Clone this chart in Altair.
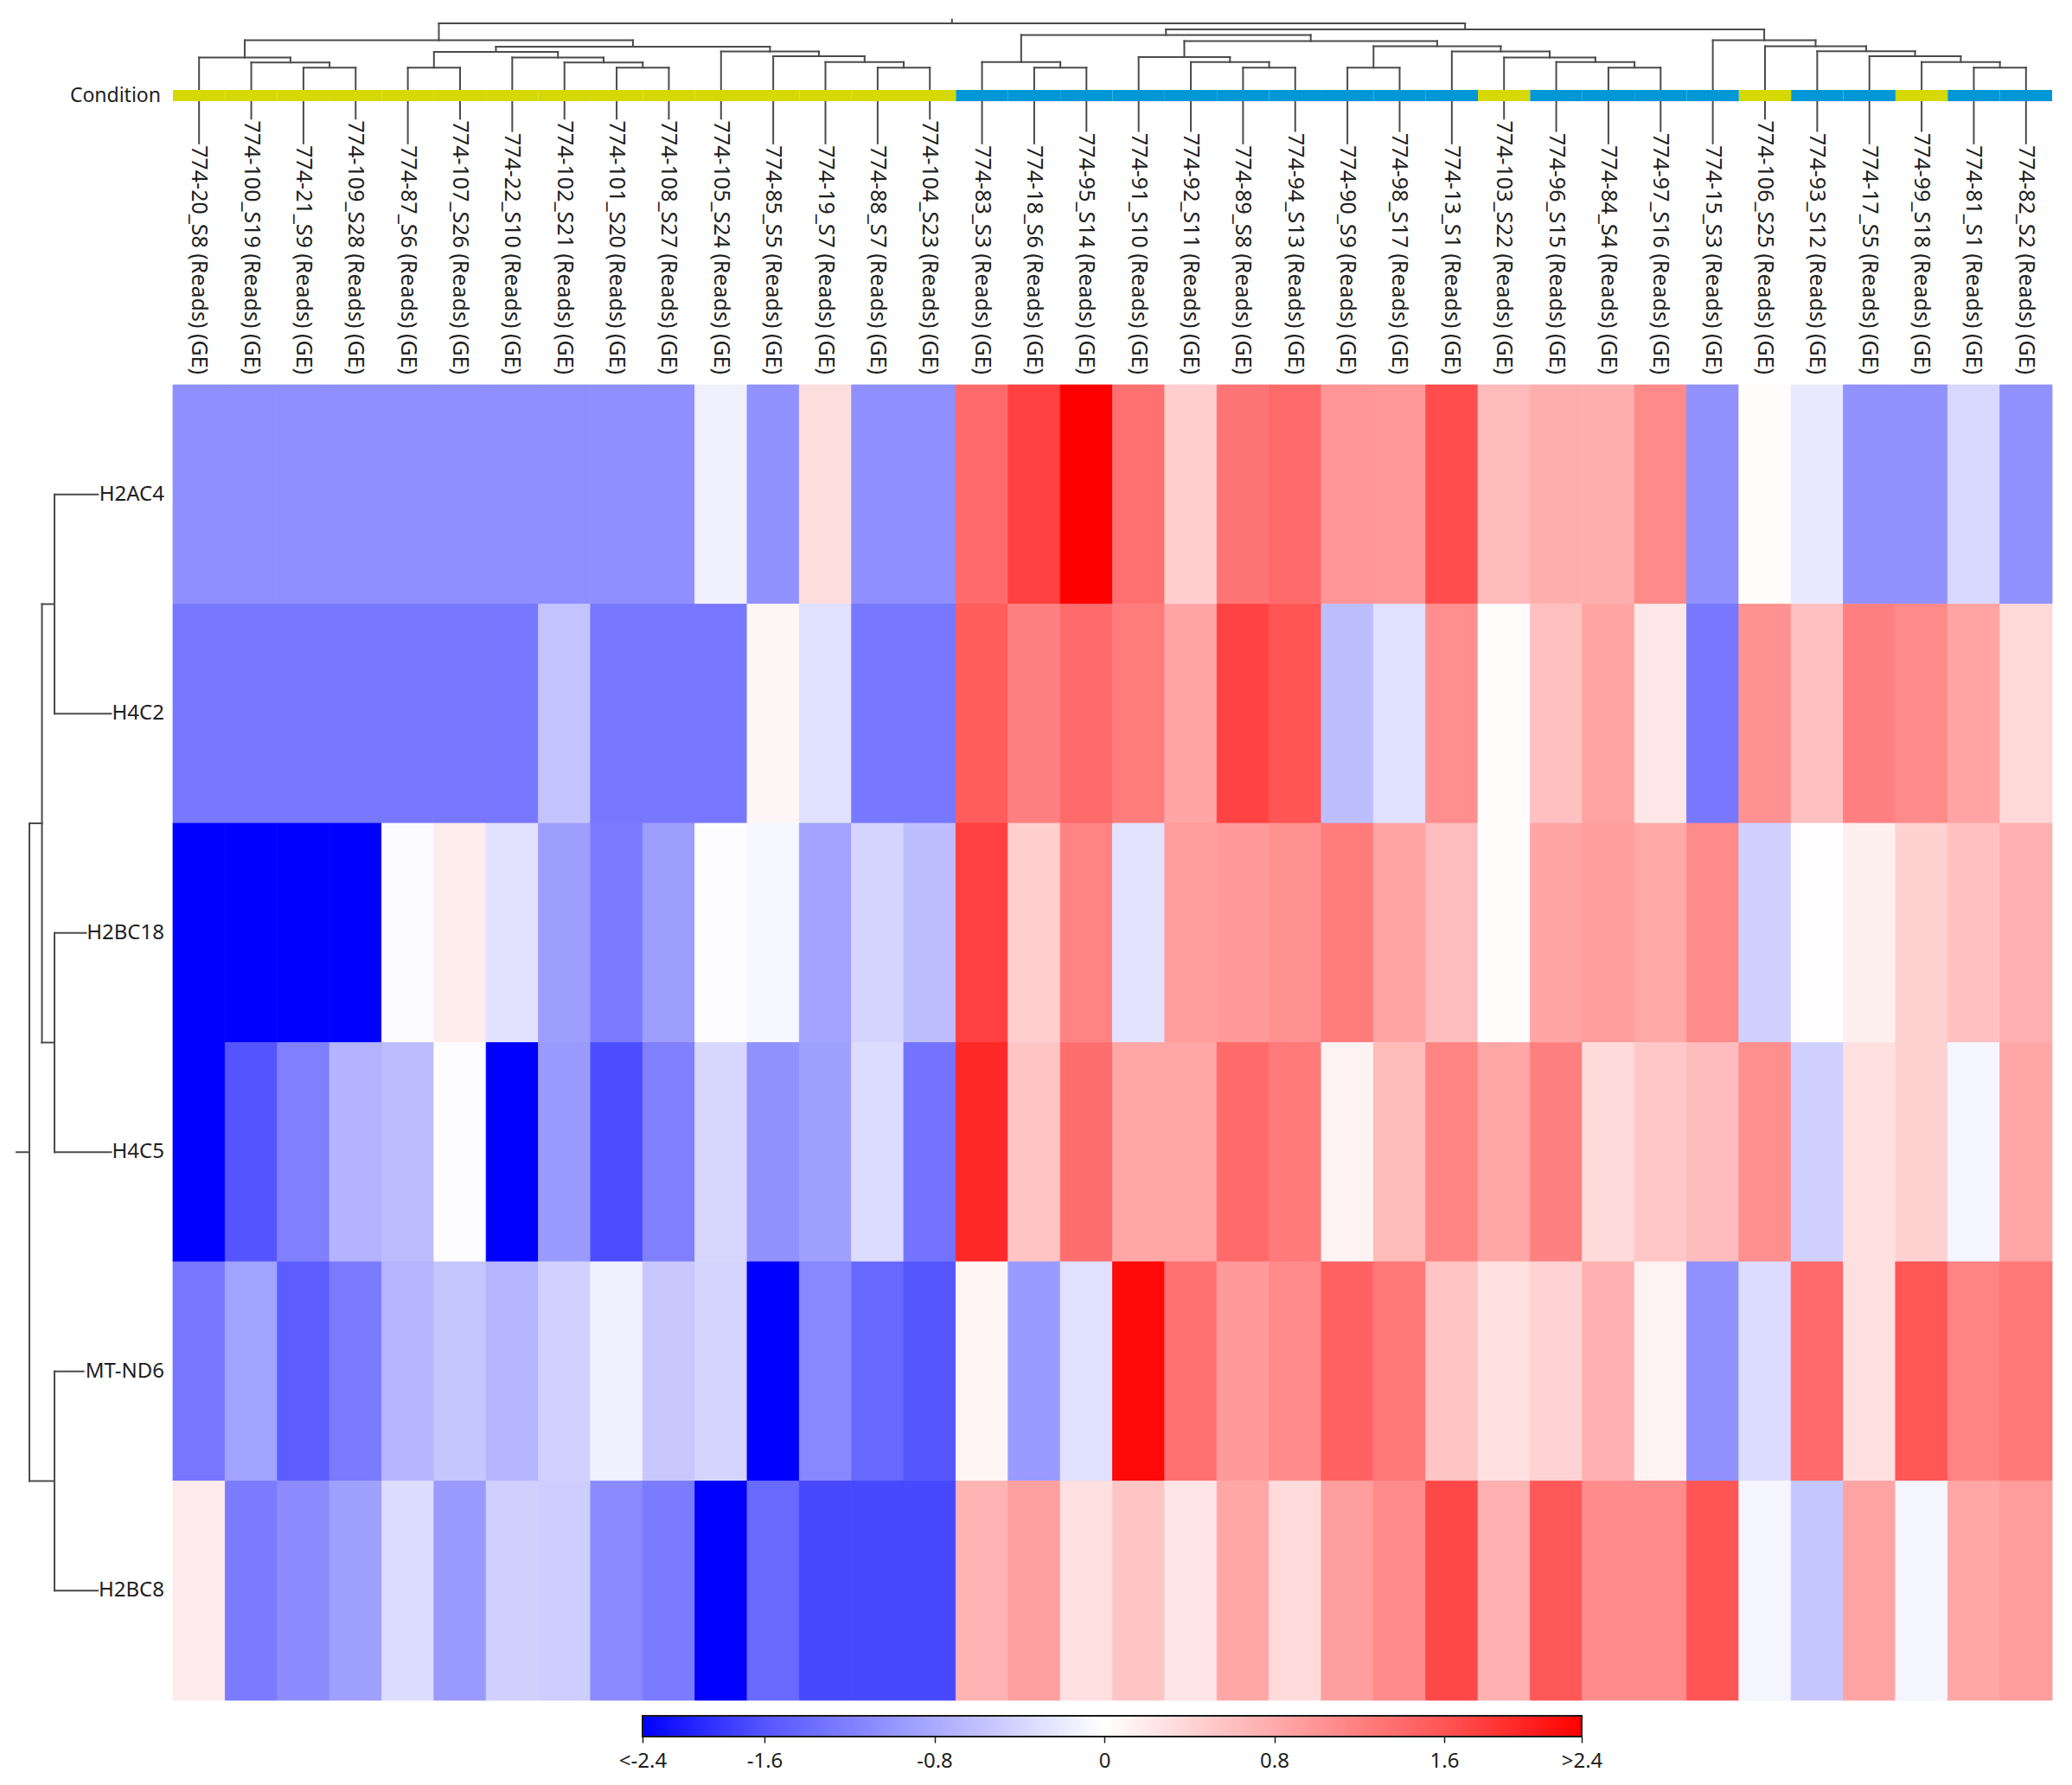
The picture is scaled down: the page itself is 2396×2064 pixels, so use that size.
import altair as alt
import numpy as np
import pandas as pd

# ---------------------------------------------------------------- data
SAMPLES = [
    "774-20_S8", "774-100_S19", "774-21_S9", "774-109_S28", "774-87_S6",
    "774-107_S26", "774-22_S10", "774-102_S21", "774-101_S20", "774-108_S27",
    "774-105_S24", "774-85_S5", "774-19_S7", "774-88_S7", "774-104_S23",
    "774-83_S3", "774-18_S6", "774-95_S14", "774-91_S10", "774-92_S11",
    "774-89_S8", "774-94_S13", "774-90_S9", "774-98_S17", "774-13_S1",
    "774-103_S22", "774-96_S15", "774-84_S4", "774-97_S16", "774-15_S3",
    "774-106_S25", "774-93_S12", "774-17_S5", "774-99_S18", "774-81_S1",
    "774-82_S2",
]
SAMPLE_SUFFIX = " (Reads) (GE)"

CONDITION = [
    "A", "A", "A", "A", "A", "A", "A", "A", "A", "A", "A", "A", "A", "A", "A",
    "B", "B", "B", "B", "B", "B", "B", "B", "B", "B",
    "A", "B", "B", "B", "B", "A", "B", "B", "A", "B", "B",
]

GENES = ["H2AC4", "H4C2", "H2BC18", "H4C5", "MT-ND6", "H2BC8"]

H2AC4 = [-1.05, -1.05, -1.05, -1.05, -1.05, -1.05, -1.05, -1.05, -1.05, -1.05,
         -0.14, -1.04, 0.31, -1.05, -1.05, 1.39, 1.80, 2.40, 1.35, 0.45,
         1.30, 1.40, 1.00, 0.97, 1.68, 0.65, 0.76, 0.76, 1.10, -1.04,
         0.03, -0.20, -1.04, -1.04, -0.37, -1.04]
H4C2 = [-1.28, -1.28, -1.28, -1.28, -1.28, -1.28, -1.28, -0.56, -1.28, -1.28,
        -1.28, 0.08, -0.29, -1.28, -1.28, 1.53, 1.20, 1.40, 1.23, 0.85,
        1.78, 1.60, -0.61, -0.29, 1.06, 0.03, 0.59, 0.87, 0.23, -1.28,
        1.04, 0.59, 1.20, 1.10, 0.87, 0.37]
H2BC18 = [-2.40, -2.40, -2.40, -2.40, -0.04, 0.18, -0.27, -0.91, -1.24, -0.91,
          -0.02, -0.08, -0.87, -0.40, -0.61, 1.80, 0.45, 1.17, -0.26, 0.93,
          0.95, 1.04, 1.23, 0.87, 0.61, 0.03, 0.85, 0.92, 0.82, 1.10,
          -0.44, 0.02, 0.14, 0.42, 0.59, 0.74]
H4C5 = [-2.40, -1.60, -1.20, -0.72, -0.63, -0.02, -2.40, -0.94, -1.68, -1.20,
        -0.39, -1.04, -0.89, -0.33, -1.32, 2.02, 0.55, 1.36, 0.84, 0.84,
        1.40, 1.25, 0.12, 0.65, 1.15, 0.84, 1.20, 0.35, 0.53, 0.63,
        1.06, -0.44, 0.29, 0.42, -0.09, 0.84]
MT_ND6 = [-1.29, -0.88, -1.52, -1.24, -0.70, -0.54, -0.70, -0.43, -0.14, -0.52,
          -0.40, -2.40, -1.12, -1.42, -1.59, 0.09, -0.95, -0.29, 2.32, 1.35,
          0.95, 1.09, 1.48, 1.27, 0.56, 0.29, 0.41, 0.74, 0.12, -1.04,
          -0.33, 1.40, 0.29, 1.59, 1.17, 1.27]
H2BC8 = [0.19, -1.24, -1.08, -0.89, -0.33, -0.95, -0.44, -0.47, -1.09, -1.24,
         -2.40, -1.40, -1.72, -1.72, -1.72, 0.72, 0.89, 0.29, 0.55, 0.24,
         0.83, 0.34, 0.91, 1.10, 1.72, 0.74, 1.57, 1.08, 1.08, 1.60,
         -0.09, -0.54, 0.87, -0.09, 0.84, 0.93]

EXPRESSION = {
    "H2AC4": H2AC4, "H4C2": H4C2, "H2BC18": H2BC18,
    "H4C5": H4C5, "MT-ND6": MT_ND6, "H2BC8": H2BC8,
}

# sample clustering: (child_a, child_b, distance); ids >= 36 are earlier merges
COL_LINKAGE = [
    (2, 3, 1.29), (1, 36, 1.59), (0, 37, 1.87),
    (4, 5, 1.29), (8, 9, 1.29), (7, 40, 1.59), (6, 41, 1.87), (39, 42, 2.20),
    (13, 14, 1.29), (12, 44, 1.61), (11, 45, 1.95), (10, 46, 2.22),
    (43, 47, 2.50), (38, 48, 2.87),
    (16, 17, 1.29), (15, 50, 1.61),
    (20, 21, 1.29), (19, 52, 1.61), (18, 53, 1.90),
    (22, 23, 1.29), (27, 28, 1.29), (26, 56, 1.61), (25, 57, 1.87), (24, 58, 2.22),
    (55, 59, 2.53), (54, 60, 2.83), (51, 61, 3.18),
    (34, 35, 1.29), (33, 63, 1.61), (32, 64, 1.95), (31, 65, 2.24),
    (30, 66, 2.53), (29, 67, 2.87),
    (62, 68, 3.50), (49, 69, 3.85),
]
# gene clustering: ids >= 6 are earlier merges
ROW_LINKAGE = [
    (0, 1, 6.85), (2, 3, 6.85), (4, 5, 6.85), (6, 7, 7.575), (9, 8, 8.30),
]

LEGEND_TICKS = [-2.4, -1.6, -0.8, 0, 0.8, 1.6, 2.4]

# ---------------------------------------------------------------- styling
FONT = "Noto Sans"
TEXT_COLOR = "#1e1e1e"
LINE_COLOR = "#4b4b4b"
COLOR_DOMAIN = [-2.4, 0, 2.4]
COLOR_RANGE = ["#0000ff", "#ffffff", "#ff0000"]
CONDITION_COLORS = {"A": "#d6d900", "B": "#0097d7"}

N_COL = len(SAMPLES)
N_ROW = len(GENES)

W_LEFT, W_HEAT = 200, 2173
H_DEND, H_COND, H_LAB, H_HEAT = 104, 13, 328, 1521
H_GAP, H_LEG, H_FOOT = 18, 24, 56

COL_FONT, ROW_FONT, COND_FONT, LEG_FONT = 25, 24, 23, 24
COL_LABEL_ANCHOR = 316          # label end, measured from the top of the label band
ROW_LABEL_ANCHOR = 190          # label end, measured from the left edge
ROW_PX_PER_UNIT = 20.0          # gene dendrogram: pixels per distance unit
COL_DIST_MAX = 5.2              # sample dendrogram distance axis top
ROW_DIST_MAX = 10.0

# piecewise colour-bar axis (ends are open-ended bins), placed under the heatmap
LEG_DOMAIN = [-2.4, -1.6, 1.6, 2.4]
LEG_RANGE = [543, 684, 1470, 1629]

# approximate advance widths (em) of Noto Sans, used to end leader lines at labels
ADV = {
    "0": .572, "1": .572, "2": .572, "3": .572, "4": .572, "5": .572,
    "6": .572, "7": .572, "8": .572, "9": .572, "-": .322, "_": .46,
    " ": .26, "(": .296, ")": .296, "R": .618, "e": .561, "a": .561,
    "d": .613, "s": .479, "G": .712, "E": .556, "S": .549, "H": .742,
    "A": .639, "C": .632, "B": .64, "M": .907, "T": .556, "N": .763, "D": .726,
}


def text_width(s, size):
    return size * sum(ADV.get(ch, .6) for ch in s)


def dendro_segments(linkage, leaf_pos, leaf_base, stub):
    n = len(leaf_pos)
    node = {i: (leaf_pos[i], leaf_base[i]) for i in range(n)}
    segs = []
    for k, (a, b, h) in enumerate(linkage):
        pa, ha = node[a]
        pb, hb = node[b]
        segs.append({"p": pa, "p2": pa, "d": ha, "d2": h})
        segs.append({"p": pb, "p2": pb, "d": hb, "d2": h})
        segs.append({"p": pa, "p2": pb, "d": h, "d2": h})
        node[n + k] = ((pa + pb) / 2, h)
    rp, rh = node[n + len(linkage) - 1]
    segs.append({"p": rp, "p2": rp, "d": rh, "d2": rh + stub})
    return pd.DataFrame(segs)


def blank(w, h):
    return alt.Chart(pd.DataFrame({"z": [0]})).mark_point(opacity=0, size=1).encode(
        x=alt.value(1), y=alt.value(1)
    ).properties(width=w, height=h)


def lin(domain, reverse=False):
    return alt.Scale(domain=domain, nice=False, zero=False, reverse=reverse)


X_COL = lin([0, N_COL])
Y_ROW = lin([0, N_ROW], reverse=True)
COLOR = alt.Scale(domain=COLOR_DOMAIN, range=COLOR_RANGE, interpolate="rgb", clamp=True)

# ---------------------------------------------------------------- heatmap
heat = pd.DataFrame([
    {"gene": g, "sample": SAMPLES[c], "x0": c, "x1": c + 1, "y0": r, "y1": r + 1, "value": v}
    for r, g in enumerate(GENES) for c, v in enumerate(EXPRESSION[g])
])
heatmap = alt.Chart(heat).mark_rect(strokeWidth=0.8).encode(
    x=alt.X("x0:Q", scale=X_COL, axis=None), x2="x1:Q",
    y=alt.Y("y0:Q", scale=Y_ROW, axis=None), y2="y1:Q",
    color=alt.Color("value:Q", scale=COLOR, legend=None),
    stroke=alt.Stroke("value:Q", scale=COLOR, legend=None),
    tooltip=["gene", "sample", "value"],
).properties(width=W_HEAT, height=H_HEAT)

# ---------------------------------------------------------------- sample dendrogram
col_pos = [i + 0.5 for i in range(N_COL)]
col_segs = dendro_segments(COL_LINKAGE, col_pos, [0.0] * N_COL, 0.22)
col_dendro = alt.Chart(col_segs).mark_rule(
    color=LINE_COLOR, strokeWidth=2, strokeCap="square"
).encode(
    x=alt.X("p:Q", scale=X_COL, axis=None), x2="p2:Q",
    y=alt.Y("d:Q", scale=lin([0, COL_DIST_MAX]), axis=None), y2="d2:Q",
).properties(width=W_HEAT, height=H_DEND)

# ---------------------------------------------------------------- condition strip
cond = pd.DataFrame({"x0": list(range(N_COL)), "x1": [i + 1 for i in range(N_COL)],
                     "condition": CONDITION})
cond_strip = alt.Chart(cond).mark_rect().encode(
    x=alt.X("x0:Q", scale=X_COL, axis=None), x2="x1:Q",
    y=alt.value(0), y2=alt.value(H_COND),
    color=alt.Color("condition:N", legend=None,
                    scale=alt.Scale(domain=list(CONDITION_COLORS),
                                    range=list(CONDITION_COLORS.values()))),
).properties(width=W_HEAT, height=H_COND)

cond_title = alt.Chart(pd.DataFrame({"t": ["Condition"]})).mark_text(
    align="right", baseline="middle", font=FONT, fontSize=COND_FONT, color=TEXT_COLOR
).encode(x=alt.value(186), y=alt.value(H_COND / 2), text="t:N").properties(
    width=W_LEFT, height=H_COND)

# ---------------------------------------------------------------- sample labels
lab = pd.DataFrame({
    "p": col_pos,
    "label": [s + SAMPLE_SUFFIX for s in SAMPLES],
})
lab["anchor"] = COL_LABEL_ANCHOR
lab["start"] = [COL_LABEL_ANCHOR - text_width(t, COL_FONT) - 2 for t in lab["label"]]
lab["zero"] = 0
LAB_Y = lin([0, H_LAB], reverse=True)
lab_lines = alt.Chart(lab).mark_rule(color=LINE_COLOR, strokeWidth=2).encode(
    x=alt.X("p:Q", scale=X_COL, axis=None),
    y=alt.Y("zero:Q", scale=LAB_Y, axis=None), y2="start:Q",
)
lab_text = alt.Chart(lab).mark_text(
    angle=90, align="right", baseline="middle", font=FONT, fontSize=COL_FONT,
    color=TEXT_COLOR,
).encode(
    x=alt.X("p:Q", scale=X_COL, axis=None),
    y=alt.Y("anchor:Q", scale=LAB_Y, axis=None),
    text="label:N",
)
col_labels = alt.layer(lab_lines, lab_text).properties(width=W_HEAT, height=H_LAB)

# ---------------------------------------------------------------- gene dendrogram + labels
row_pos = [r + 0.5 for r in range(N_ROW)]
row_start = [(W_LEFT - (ROW_LABEL_ANCHOR - text_width(g, ROW_FONT) - 1)) / ROW_PX_PER_UNIT
             for g in GENES]
row_segs = dendro_segments(ROW_LINKAGE, row_pos, row_start, 0.75)
X_DIST = lin([0, ROW_DIST_MAX], reverse=True)
row_dendro = alt.Chart(row_segs).mark_rule(
    color=LINE_COLOR, strokeWidth=2, strokeCap="square"
).encode(
    x=alt.X("d:Q", scale=X_DIST, axis=None), x2="d2:Q",
    y=alt.Y("p:Q", scale=Y_ROW, axis=None), y2="p2:Q",
)
row_text = alt.Chart(pd.DataFrame({"p": row_pos, "gene": GENES})).mark_text(
    align="right", baseline="middle", font=FONT, fontSize=ROW_FONT, color=TEXT_COLOR
).encode(
    x=alt.value(ROW_LABEL_ANCHOR),
    y=alt.Y("p:Q", scale=Y_ROW, axis=None),
    text="gene:N",
)
row_panel = alt.layer(row_dendro, row_text).properties(width=W_LEFT, height=H_HEAT)

# ---------------------------------------------------------------- colour bar


def ramp(v):
    t = max(-1.0, min(1.0, v / COLOR_DOMAIN[-1]))
    if t < 0:
        g = round(255 * (1 + t))
        return f"#{g:02x}{g:02x}ff"
    g = round(255 * (1 - t))
    return f"#ff{g:02x}{g:02x}"


stop_vals = sorted(set(LEG_DOMAIN + [0]))
span = LEG_RANGE[-1] - LEG_RANGE[0]
stops = [{"offset": float((np.interp(v, LEG_DOMAIN, LEG_RANGE) - LEG_RANGE[0]) / span),
          "color": ramp(v)} for v in stop_vals]
gradient = {"gradient": "linear", "x1": 0, "x2": 1, "y1": 0, "y2": 0, "stops": stops}

LEG_X = alt.Scale(domain=LEG_DOMAIN, range=LEG_RANGE, nice=False, zero=False)
legend_bar = alt.Chart(pd.DataFrame({"lo": [LEG_DOMAIN[0]], "hi": [LEG_DOMAIN[-1]]})).mark_rect(
    color=gradient, stroke="#1a1a1a", strokeWidth=2
).encode(
    x=alt.X("lo:Q", scale=LEG_X, axis=alt.Axis(
        values=LEGEND_TICKS, domain=False, grid=False, title=None,
        tickSize=7, tickWidth=1.5, tickColor="#1a1a1a",
        labelFont=FONT, labelFontSize=LEG_FONT, labelColor=TEXT_COLOR,
        labelPadding=9, labelFlush=False, labelOverlap=False,
        labelExpr=("datum.value <= -2.4 ? '<-2.4' : datum.value >= 2.4 ? '>2.4' : "
                   "(datum.value < 0 ? '-' : '') + format(abs(datum.value), '~g')"),
    )),
    x2="hi:Q",
    y=alt.value(0), y2=alt.value(H_LEG),
).properties(width=W_HEAT, height=H_LEG)

# ---------------------------------------------------------------- assemble (2-column grid)
chart = alt.concat(
    blank(W_LEFT, H_DEND), col_dendro,
    cond_title, cond_strip,
    blank(W_LEFT, H_LAB), col_labels,
    row_panel, heatmap,
    blank(W_LEFT, H_GAP), blank(W_HEAT, H_GAP),
    blank(W_LEFT, H_LEG), legend_bar,
    blank(W_LEFT, H_FOOT), blank(W_HEAT, H_FOOT),
    columns=2, spacing=0, bounds="flush",
).properties(padding=0, background="white").configure(
    font=FONT
).configure_view(
    stroke=None, strokeWidth=0
)

chart.save("out.html", embed_options={"renderer": "svg", "actions": False})
